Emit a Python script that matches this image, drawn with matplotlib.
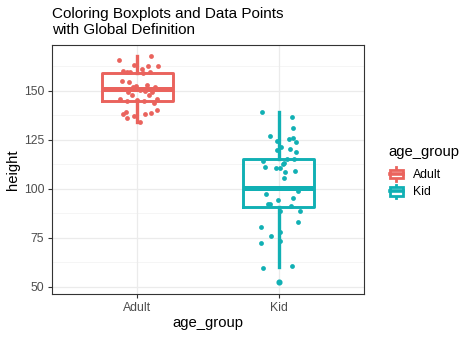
import matplotlib.pyplot as plt
from matplotlib.legend_handler import HandlerBase
from matplotlib.patches import Rectangle
from matplotlib.lines import Line2D

plt.rcParams['font.family'] = ['Liberation Sans', 'DejaVu Sans']

groups = ['Adult', 'Kid']
colors = ['#EA635D', '#11B0B4']

# jittered points: horizontal offset from the group centre, and height
adult_offset = [-0.127, 0.099, -0.021, 0.078, 0.148, -0.099, -0.074, -0.053,
                0.032, 0.044, 0.088, -0.109, -0.056, -0.007, 0.071, 0.127,
                -0.085, 0.021, -0.028, -0.039, 0.087, -0.123, -0.071, -0.002,
                0.049, 0.120, 0.141, -0.081, -0.097, -0.074, -0.021, 0.021,
                0.056, 0.099, 0.139, 0.056, 0.106, -0.063]
adult_height = [165.8, 167.9, 163.3, 162.8, 162.8, 160.0, 159.9, 159.7,
                161.0, 159.0, 159.5, 155.1, 154.6, 152.7, 153.2, 152.2,
                151.0, 150.5, 152.0, 148.0, 148.0, 145.8, 145.0, 145.6,
                145.0, 143.9, 145.7, 139.5, 138.0, 136.2, 137.0, 134.0,
                138.2, 138.6, 140.1, 150.0, 149.5, 149.5]

kid_offset = [-0.116, 0.090, 0.097, -0.063, -0.016, 0.073, 0.097, 0.120,
              0.012, -0.014, 0.078, 0.123, 0.061, 0.106, -0.111, -0.099,
              -0.021, 0.007, 0.026, 0.035, 0.042, 0.113, 0.035, -0.092,
              -0.009, 0.101, 0.132, -0.075, -0.060, 0.088, 0.007, 0.148,
              -0.125, 0.136, -0.056, -0.127, 0.007, 0.005, -0.111, 0.090,
              0.002]
kid_height = [139.5, 136.6, 130.9, 127.0, 124.5, 125.5, 125.8, 123.7,
              121.3, 119.9, 120.5, 119.0, 115.1, 115.1, 114.2, 111.4,
              110.8, 110.9, 112.7, 113.1, 108.8, 109.3, 105.8, 97.4,
              94.5, 95.2, 99.0, 92.4, 92.3, 91.5, 88.9, 88.8,
              80.7, 83.0, 75.9, 72.6, 73.5, 78.1, 59.6, 60.8,
              52.3]

# box summaries per group
whisker_low = [134.2, 60.2]
q1 = [144.9, 90.6]
median = [151.2, 100.4]
q3 = [159.0, 115.1]
whisker_high = [167.9, 139.1]
outliers = [[], [52.3]]

offsets = [adult_offset, kid_offset]
heights = [adult_height, kid_height]


class BoxKeyHandler(HandlerBase):
    # small boxplot glyph for the legend keys
    def __init__(self, color):
        super().__init__()
        self.color = color

    def create_artists(self, legend, orig_handle, xdescent, ydescent,
                       width, height, fontsize, trans):
        cx = width / 2 - xdescent
        bw = width * 0.8
        box = Rectangle((cx - bw / 2, -ydescent + height * 0.1), bw, height * 0.8,
                        facecolor='white', edgecolor=self.color, lw=2.0,
                        transform=trans)
        med = Line2D([cx - bw / 2, cx + bw / 2], [-ydescent + height * 0.5] * 2,
                     color=self.color, lw=2.6, transform=trans)
        top = Line2D([cx, cx], [-ydescent + height * 0.9, -ydescent + height * 1.1],
                     color=self.color, lw=2.0, transform=trans)
        bot = Line2D([cx, cx], [-ydescent - height * 0.1, -ydescent + height * 0.1],
                     color=self.color, lw=2.0, transform=trans)
        return [top, bot, box, med]


fig = plt.figure(figsize=(4.74, 3.38), dpi=100)
ax = fig.add_axes([0.1097, 0.130, 0.658, 0.737])

ax.set_xlim(0.4, 2.6)
ax.set_ylim(46.3, 173.5)

major_y = [50, 75, 100, 125, 150]
minor_y = [62.5, 87.5, 112.5, 137.5, 162.5]
for y in major_y:
    ax.axhline(y, color='#EBEBEB', lw=0.9, zorder=0)
for y in minor_y:
    ax.axhline(y, color='#F2F2F2', lw=0.5, zorder=0)
for x in [1, 2]:
    ax.axvline(x, color='#EBEBEB', lw=0.9, zorder=0)

for i, g in enumerate(groups):
    stats = [dict(med=median[i], q1=q1[i], q3=q3[i], whislo=whisker_low[i],
                  whishi=whisker_high[i], fliers=outliers[i])]
    c = colors[i]
    ax.bxp(stats, positions=[i + 1], widths=0.5, showcaps=False,
           boxprops=dict(color=c, lw=2.1),
           whiskerprops=dict(color=c, lw=2.4),
           medianprops=dict(color=c, lw=3.6, solid_capstyle='butt'),
           flierprops=dict(marker='o', markerfacecolor=c, markeredgecolor=c,
                           markersize=3.4),
           manage_ticks=False, zorder=2)
    xs = [i + 1 + d for d in offsets[i]]
    ax.scatter(xs, heights[i], s=12, color=c, linewidths=0, zorder=3)

ax.set_xticks([1, 2])
ax.set_xticklabels(groups)
ax.set_yticks(major_y)
ax.tick_params(axis='both', colors='#333333', length=3, width=0.8,
               labelsize=8.8, labelcolor='#4D4D4D', pad=2.5)
for s in ax.spines.values():
    s.set_color('#333333')
    s.set_linewidth(0.8)

ax.set_xlabel('age_group', fontsize=10.7, labelpad=2)
ax.set_ylabel('height', fontsize=10.7, labelpad=3)
fig.text(0.1097, 0.978, 'Coloring Boxplots and Data Points\nwith Global Definition',
         fontsize=11, ha='left', va='top', linespacing=1.15)

handles = [Rectangle((0, 0), 1, 1) for _ in groups]
leg = fig.legend(handles, groups, title='age_group', loc='upper left',
                 bbox_to_anchor=(0.81, 0.586), frameon=False, fontsize=8.8,
                 title_fontsize=10.7, handlelength=1.25, handleheight=1.0,
                 handletextpad=0.75, labelspacing=0.38, borderaxespad=0,
                 handler_map={h: BoxKeyHandler(c) for h, c in zip(handles, colors)})
leg._legend_box.align = 'left'
leg._legend_box.sep = 7

fig.savefig('out.png', dpi=100)
